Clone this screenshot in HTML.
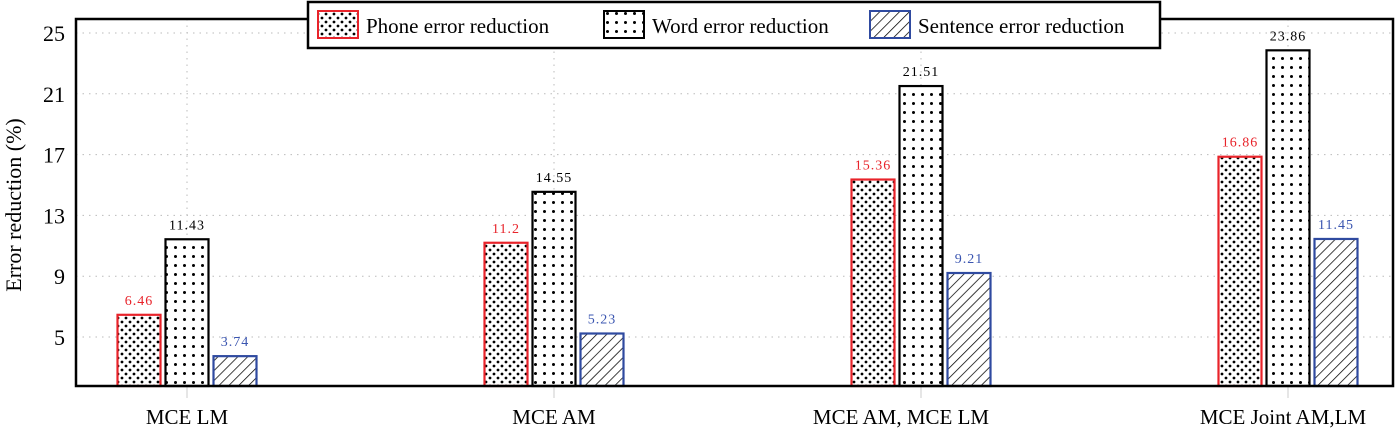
<!DOCTYPE html>
<html><head><meta charset="utf-8"><style>
body{margin:0;background:#fff}
svg text{font-family:"Liberation Serif",serif}
</style></head><body>
<svg id="c" width="1400" height="431">
<defs>
<pattern id="pDots" width="8" height="8" patternUnits="userSpaceOnUse">
<rect width="8" height="8" fill="#fff"/><circle cx="2" cy="2" r="1.4" fill="#000"/><circle cx="6" cy="6" r="1.4" fill="#000"/></pattern>
<pattern id="pGrid" width="9" height="9" patternUnits="userSpaceOnUse">
<rect width="9" height="9" fill="#fff"/><circle cx="4.5" cy="4.5" r="1.5" fill="#000"/></pattern>
<pattern id="pLines" width="7" height="7" patternUnits="userSpaceOnUse" patternTransform="rotate(45)">
<rect width="7" height="7" fill="#fff"/><line x1="0" y1="0" x2="0" y2="7" stroke="#000" stroke-width="1.5"/></pattern>
</defs>
<g id="g"></g>
</svg>
<script>
const categories=["MCE LM","MCE AM","MCE AM, MCE LM","MCE Joint AM,LM"];
const phone=[6.46,11.2,15.36,16.86];
const word=[11.43,14.55,21.51,23.86];
const sentence=[3.74,5.23,9.21,11.45];
const phoneLabels=["6.46","11.2","15.36","16.86"];
const wordLabels=["11.43","14.55","21.51","23.86"];
const sentenceLabels=["3.74","5.23","9.21","11.45"];
const yTicks=[5,9,13,17,21,25];
const NS="http://www.w3.org/2000/svg";
const g=document.getElementById('g');
const L=76,R=1393,T=19,B=386;
const y=v=>337-(v-5)*15.2;
const x=i=>187+i*367;
function el(t,a,txt){const e=document.createElementNS(NS,t);for(const k in a)e.setAttribute(k,a[k]);if(txt!==undefined)e.textContent=txt;g.appendChild(e);return e;}
yTicks.forEach(v=>{
 const l=el('line',{x1:L,x2:R,y1:y(v),y2:y(v),stroke:'#bbb','stroke-dasharray':'1.5 5'});
 
 
 const t=el('text',{x:65,y:y(v)+8,'text-anchor':'end','font-size':22},String(v));
 
 
});
categories.forEach((c,i)=>{
 const l=el('line',{x1:x(i),x2:x(i),y1:T,y2:B,stroke:'#bbb','stroke-dasharray':'1.5 5'});
 
 
 const tk=el('line',{x1:x(i),x2:x(i),y1:B,y2:B+12,stroke:'#ccc'});
 
 
 const t=el('text',{x:x(i)-(i==2?20:i==3?5:0),y:424,'text-anchor':'middle','font-size':21},c);
 
 
});
const series=[[phone,phoneLabels,'url(#pDots)','#e8232a','#e8232a',-48,'phone-bar'],[word,wordLabels,'url(#pGrid)','#000','#000',0,'word-bar'],[sentence,sentenceLabels,'url(#pLines)','#2f4aa0','#3a55b0',48,'sentence-bar']];
series.forEach(s=>{
 s[0].forEach((v,i)=>{
  const cx=x(i)+s[5];
  const r=el('rect',{x:cx-21.5,y:y(v),width:43,height:B-y(v),fill:s[2],stroke:s[3],'stroke-width':2.2});
  
  
  const t=el('text',{x:cx,y:y(v)-10,'text-anchor':'middle','font-size':14,fill:s[4],'letter-spacing':'1','font-family':'Liberation Mono,monospace'},s[1][i]);
  
  
 });
});
const ax=el('rect',{x:L,y:T,width:R-L,height:B-T,fill:'none',stroke:'#000','stroke-width':2.5});


const yl=el('text',{x:0,y:0,transform:'translate(21,205) rotate(-90)','text-anchor':'middle','font-size':22},'Error reduction (%)');


const lg=el('rect',{x:308,y:2,width:852,height:46,fill:'#fff',stroke:'#000','stroke-width':2.5});


const entries=[['Phone error reduction','url(#pDots)','#e8232a',318],['Word error reduction','url(#pGrid)','#000',604],['Sentence error reduction','url(#pLines)','#2f4aa0',870]];
entries.forEach(e=>{
 const r=el('rect',{x:e[3],y:11,width:40,height:27,fill:e[1],stroke:e[2],'stroke-width':2});
 
 
 const t=el('text',{x:e[3]+48,y:33,'font-size':21},e[0]);
 
 
});
</script>
</body></html>
